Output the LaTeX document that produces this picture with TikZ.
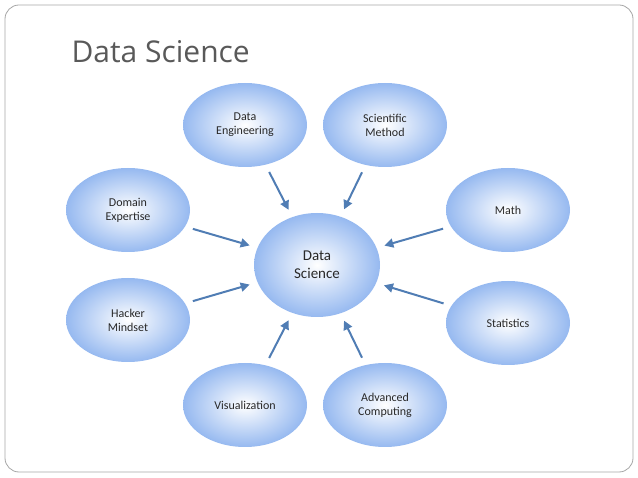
\documentclass[tikz,border=0pt]{standalone}
\usepackage{fontspec}
\setmainfont{Carlito}
\newfontfamily\titlefont{Open Sans}
\usetikzlibrary{shapes.geometric,arrows.meta}
\definecolor{edgeblue}{RGB}{150,185,240}
\definecolor{arrowblue}{RGB}{80,125,180}
\definecolor{txt}{RGB}{40,40,40}
\tikzset{
  bub/.style={ellipse,inner sep=0pt,minimum width=124pt,minimum height=84pt,
    shading=radial,inner color=white,outer color=edgeblue,align=center,
    text=txt,font=\fontsize{12}{14}\selectfont},
  arr/.style={-{Triangle[length=9pt,width=9pt]},line width=2pt,draw=arrowblue,
    shorten <=8pt,shorten >=8pt}
}
\begin{document}
\begin{tikzpicture}[x=1pt,y=-1pt]
\useasboundingbox (0,0) rectangle (638,478);
\draw[draw=gray!70,line width=0.8pt,rounded corners=14pt] (5,5) rectangle (633,472);
\node[anchor=west,text=black!65,font=\titlefont\fontsize{30}{34}\selectfont] (title) at (68,52) {Data Science};
\node[bub,minimum width=126pt,minimum height=104pt,font=\fontsize{15}{18}\selectfont] (ds) at (317,265) {Data\\Science};
\node[bub] (de) at (245,125) {Data\\Engineering};
\node[bub] (sm) at (385,125) {Scientific\\Method};
\node[bub] (do) at (128,210) {Domain\\Expertise};
\node[bub] (ma) at (508,210) {Math};
\node[bub] (hm) at (128,320) {Hacker\\Mindset};
\node[bub] (st) at (508,323) {Statistics};
\node[bub] (vi) at (245,405) {Visualization};
\node[bub] (ac) at (385,405) {Advanced\\Computing};
\foreach \n in {de,sm,do,ma,hm,st,vi,ac} \draw[arr] (\n) -- (ds);
\end{tikzpicture}
\end{document}
